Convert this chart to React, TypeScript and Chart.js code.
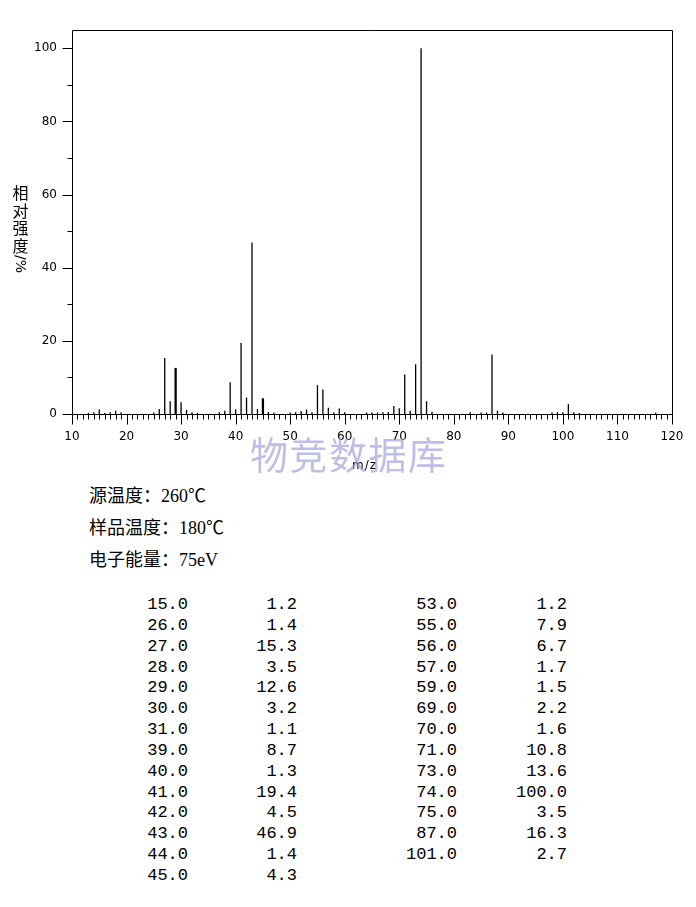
import React, { useEffect, useRef } from "react";
import { Chart, registerables } from "chart.js";

Chart.register(...registerables);

// Peaks listed in the table (m/z, relative intensity %)
const mzMain = [15, 26, 27, 28, 29, 30, 31, 39, 40, 41, 42, 43, 44, 45, 53, 55, 56, 57, 59, 69, 70, 71, 73, 74, 75, 87, 101];
const intMain = [1.2, 1.4, 15.3, 3.5, 12.6, 3.2, 1.1, 8.7, 1.3, 19.4, 4.5, 46.9, 1.4, 4.3, 1.2, 7.9, 6.7, 1.7, 1.5, 2.2, 1.6, 10.8, 13.6, 100.0, 3.5, 16.3, 2.7];
// Peaks drawn with a wider stroke
const mzThick = [29, 45];
// Small peaks (< 1 %) visible in the spectrum but not in the table
const mzMinor = [13, 14, 16, 17, 18, 19, 25, 32, 33, 37, 38, 46, 47, 50, 51, 52, 54, 58, 60, 64, 65, 66, 67, 68, 72, 76, 83, 85, 86, 88, 89, 98, 99, 100, 102, 103, 117];
const intMinor = [0.3, 0.5, 0.3, 0.5, 0.9, 0.5, 0.4, 0.5, 0.3, 0.5, 0.9, 0.5, 0.4, 0.4, 0.5, 0.8, 0.5, 0.4, 0.5, 0.4, 0.4, 0.4, 0.5, 0.5, 0.9, 0.6, 0.5, 0.4, 0.4, 0.9, 0.4, 0.4, 0.5, 0.5, 0.5, 0.3, 0.4];

const xTicks = [10, 20, 30, 40, 50, 60, 70, 80, 90, 100, 110, 120];
const yTicks = [0, 20, 40, 60, 80, 100];
const yMinorTicks = [10, 30, 50, 70, 90];
const xMin = 10;
const xMax = 120;
const yMax = 105;

const yTitleChars = ["相", "对", "强", "度"];
const yTitleUnit = "/%";
const xTitle = "m/z";
const watermark = "物竞数据库";
const infoLines = ["源温度：260℃", "样品温度：180℃", "电子能量：75eV"];
const leftRows = 14;

const frameTicks = {
  id: "frameTicks",
  afterDraw(chart: any) {
    const { ctx, chartArea: a, scales } = chart;
    const x = scales.x;
    const y = scales.y;
    const L = Math.round(a.left) + 0.5;
    const R = Math.round(a.right) + 0.5;
    const T = Math.round(a.top) + 0.5;
    const B = Math.round(a.bottom) + 0.5;
    ctx.save();
    ctx.strokeStyle = "#000";
    ctx.lineWidth = 1;
    ctx.beginPath();
    ctx.moveTo(L, B);
    ctx.lineTo(L, T);
    ctx.lineTo(R, T);
    ctx.lineTo(R, B);
    ctx.lineTo(L, B);
    for (let v = xMin; v <= xMax; v++) {
      const px = Math.round(x.getPixelForValue(v)) + 0.5;
      const len = xTicks.includes(v) ? 10 : 5;
      ctx.moveTo(px, B);
      ctx.lineTo(px, B + len);
    }
    yTicks.forEach((v) => {
      const py = Math.round(y.getPixelForValue(v)) + 0.5;
      ctx.moveTo(L, py);
      ctx.lineTo(L - 10, py);
    });
    yMinorTicks.forEach((v) => {
      const py = Math.round(y.getPixelForValue(v)) + 0.5;
      ctx.moveTo(L, py);
      ctx.lineTo(L - 5, py);
    });
    ctx.stroke();
    ctx.restore();
  },
};

export default function App() {
  const ref = useRef<HTMLCanvasElement | null>(null);

  useEffect(() => {
    if (!ref.current) return;
    const thin: { x: number; y: number }[] = [];
    const thick: { x: number; y: number }[] = [];
    mzMain.forEach((m, i) => {
      if (mzThick.includes(m)) thick.push({ x: m, y: intMain[i] });
      else thin.push({ x: m, y: intMain[i] });
    });
    mzMinor.forEach((m, i) => thin.push({ x: m, y: intMinor[i] }));

    const chart = new Chart(ref.current, {
      type: "bar",
      data: {
        datasets: [
          {
            data: thin,
            backgroundColor: "#000",
            borderWidth: 0,
            barThickness: 1.3,
            grouped: false,
            inflateAmount: 0,
          } as any,
          {
            data: thick,
            backgroundColor: "#000",
            borderWidth: 0,
            barThickness: 2.3,
            grouped: false,
            inflateAmount: 0,
          } as any,
        ],
      },
      options: {
        animation: false,
        responsive: false,
        devicePixelRatio: 1,
        layout: { padding: { left: 0, right: 16, top: 22, bottom: 24 } },
        plugins: { legend: { display: false }, tooltip: { enabled: false } },
        scales: {
          x: {
            type: "linear",
            min: xMin,
            max: xMax,
            offset: false,
            grid: { display: false, drawTicks: false },
            border: { display: false },
            afterBuildTicks: (s: any) => {
              s.ticks = xTicks.map((v) => ({ value: v }));
            },
            afterFit: (s: any) => {
              s.height = 40;
              s.paddingLeft = 0;
              s.paddingRight = 0;
            },
            ticks: {
              padding: 16,
              color: "#000",
              maxRotation: 0,
              autoSkip: false,
              font: { family: "'DejaVu Sans'", size: 12 },
            },
          },
          y: {
            min: 0,
            max: yMax,
            grid: { display: false, drawTicks: false },
            border: { display: false },
            afterBuildTicks: (s: any) => {
              s.ticks = yTicks.map((v) => ({ value: v }));
            },
            afterFit: (s: any) => {
              s.width = 64;
              s.paddingTop = 0;
              s.paddingBottom = 0;
            },
            ticks: {
              padding: 15,
              color: "#000",
              font: { family: "'DejaVu Sans'", size: 12 },
            },
          },
        },
      } as any,
      plugins: [frameTicks],
    });
    return () => chart.destroy();
  }, []);

  const colStyle = (right: number): React.CSSProperties => ({
    position: "absolute",
    left: right - 120,
    width: 120,
    top: 587,
    textAlign: "right",
    whiteSpace: "pre",
    fontFamily: "'Liberation Mono', monospace",
    fontSize: 17,
    lineHeight: "20.85px",
    color: "#000",
  });

  const left = mzMain.slice(0, leftRows);
  const right = mzMain.slice(leftRows);

  return (
    <div style={{ position: "relative", width: 680, height: 891 }}>
      <canvas
        ref={ref}
        width={680}
        height={470}
        style={{ position: "absolute", left: 0, top: 0, width: 680, height: 470 }}
      />
      <div
        style={{
          position: "absolute",
          left: 4,
          top: 176,
          width: 17,
          textAlign: "center",
          fontFamily: "'Noto Sans CJK SC', 'DejaVu Sans', sans-serif",
          fontSize: 16,
          lineHeight: "17.7px",
          color: "#000",
        }}
      >
        {yTitleChars.map((c) => (
          <div key={c}>{c}</div>
        ))}
        <div
          style={{
            writingMode: "vertical-rl",
            fontFamily: "'DejaVu Sans', sans-serif",
            fontSize: 14,
            lineHeight: "17px",
            margin: "0 auto",
          }}
        >
          {yTitleUnit}
        </div>
      </div>
      <div
        style={{
          position: "absolute",
          left: 344,
          top: 450,
          fontFamily: "'DejaVu Sans', sans-serif",
          fontSize: 12,
          lineHeight: "14px",
          letterSpacing: "1px",
          color: "#000",
        }}
      >
        {xTitle}
      </div>
      <div
        style={{
          position: "absolute",
          left: 242,
          top: 425,
          fontFamily: "'Noto Sans CJK SC', sans-serif",
          fontSize: 38,
          lineHeight: "40px",
          letterSpacing: "1.5px",
          color: "rgba(150,150,220,0.62)",
          whiteSpace: "nowrap",
        }}
      >
        {watermark}
      </div>
      {infoLines.map((t, i) => (
        <div
          key={t}
          style={{
            position: "absolute",
            left: 81,
            top: 478 + i * 32,
            fontFamily: "'Liberation Serif', 'Noto Sans CJK SC', serif",
            fontSize: 18,
            lineHeight: "20px",
            color: "#000",
            whiteSpace: "nowrap",
          }}
        >
          {t}
        </div>
      ))}
      <div style={colStyle(180)}>{left.map((m) => m.toFixed(1)).join("\n")}</div>
      <div style={colStyle(289)}>
        {left.map((m) => intMain[mzMain.indexOf(m)].toFixed(1)).join("\n")}
      </div>
      <div style={colStyle(449)}>{right.map((m) => m.toFixed(1)).join("\n")}</div>
      <div style={colStyle(559)}>
        {right.map((m) => intMain[mzMain.indexOf(m)].toFixed(1)).join("\n")}
      </div>
    </div>
  );
}
